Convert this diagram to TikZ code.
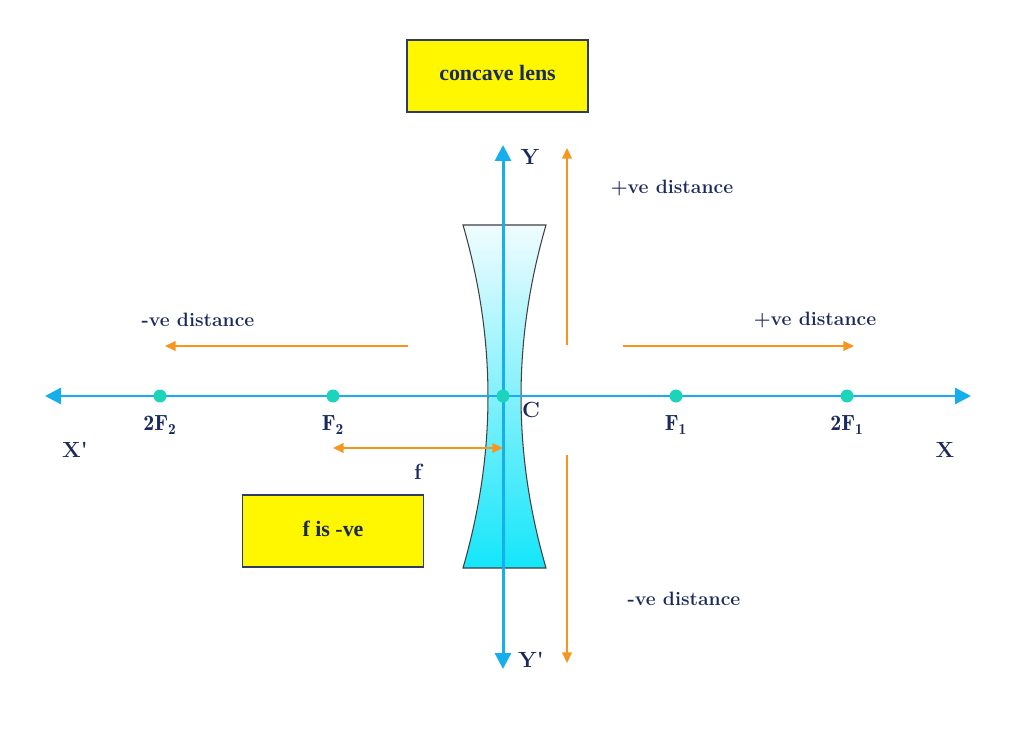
\documentclass[tikz,border=0pt]{standalone}
\usepackage{fontspec}
\newfontfamily\boxfont{Liberation Serif}
\usetikzlibrary{arrows.meta}
\definecolor{navy}{HTML}{1B2A5C}
\definecolor{axisblue}{HTML}{17AEEE}
\definecolor{orng}{HTML}{F7961E}
\definecolor{turq}{HTML}{1CD3BC}
\definecolor{yel}{HTML}{FFF700}
\definecolor{lenstop}{HTML}{F0FCFF}
\definecolor{lensbot}{HTML}{14E6FA}
\tikzset{
  lbl/.style={text=navy,font=\fontsize{12.5}{15}\selectfont\bfseries,inner sep=0pt},
  dist/.style={text=navy,font=\fontsize{11}{13}\selectfont\bfseries,inner sep=0pt},
  infobox/.style={draw=navy!80!gray,line width=0.8pt,fill=yel,text=navy,
     font=\boxfont\fontsize{12.5}{15}\selectfont\bfseries,minimum width=181*0.02cm,minimum height=72*0.02cm,inner sep=0pt},
  axisline/.style={draw=axisblue,line width=1.7pt},
  axistip/.style={-{Triangle[length=9pt,width=9pt]}},
  oarrow/.style={draw=orng,line width=0.8pt,-{Triangle[length=6pt,width=5.5pt]}},
  dot/.style={circle,fill=turq,minimum size=13*0.02cm,inner sep=0pt},
}
\begin{document}
\begin{tikzpicture}[x=0.02cm,y=-0.02cm]
\useasboundingbox (0,0) rectangle (1024,743);
% boxes
\node[infobox] (boxlens) at (497.5,76) {\raisebox{3pt}{concave lens}};
\node[infobox] (boxf) at (333,531) {\raisebox{2pt}{f is -ve}};
% lens
\shade[shading angle=20,top color=lenstop,bottom color=lensbot,draw=black!75,line width=0.6pt]
  (463,225) -- (546,225) .. controls (512.7,340) and (512.7,453) .. (546,568)
  -- (463,568) .. controls (496.3,453) and (496.3,340) .. (463,225) -- cycle;
% coordinates
\coordinate (Xl) at (45,396);
\coordinate (Xr) at (971,396);
\coordinate (Yt) at (503,145);
\coordinate (Yb) at (503,669);
\coordinate (O) at (503,396);
% axes
\draw[axisline,axistip] (O) -- (Xl);
\draw[axisline,axistip] (O) -- (Xr);
\draw[axisline,axistip] (O) -- (Yt);
\draw[axisline,axistip] (O) -- (Yb);
% orange arrows
\coordinate (ut0) at (567,345); \coordinate (ut1) at (567,148);
\coordinate (dt0) at (567,455); \coordinate (dt1) at (567,663);
\coordinate (lt0) at (408,346); \coordinate (lt1) at (165,346);
\coordinate (rt0) at (623,346); \coordinate (rt1) at (854,346);
\draw[oarrow] (ut0) -- (ut1);
\draw[oarrow] (dt0) -- (dt1);
\draw[oarrow] (lt0) -- (lt1);
\draw[oarrow] (rt0) -- (rt1);
% points
\node[dot] (p2F2) at (160,396) {};
\node[dot] (pF2) at (333,396) {};
\node[dot] (pC) at (503,396) {};
\node[dot] (pF1) at (676,396) {};
\node[dot] (p2F1) at (847,396) {};
% f arrow
\coordinate (fa) at (333,448);
\coordinate (fb) at (503,448);
\draw[draw=orng,line width=0.8pt,{Triangle[length=6pt,width=5.5pt]}-{Triangle[length=6pt,width=5.5pt]}] (fa) -- (fb);
% labels
\node[lbl] (l2F2) at (160,425) {$\mathbf{2F_2}$};
\node[lbl] (lF2) at (333,425) {$\mathbf{F_2}$};
\node[lbl] (lC) at (531,410) {C};
\node[lbl] (lF1) at (676,425) {$\mathbf{F_1}$};
\node[lbl] (l2F1) at (847,425) {$\mathbf{2F_1}$};
\node[lbl] (lXp) at (75,450) {X\textquotesingle};
\node[lbl] (lX) at (945,450) {X};
\node[lbl] (lY) at (530,157) {Y};
\node[lbl] (lYp) at (531,660) {Y\textquotesingle};
\node[lbl] (lf) at (418,472) {f};
\node[dist] (dtop) at (672,188) {+ve distance};
\node[dist] (dleft) at (198,320) {-ve distance};
\node[dist] (dright) at (815,320) {+ve distance};
\node[dist] (dbot) at (684,599) {-ve distance};
\end{tikzpicture}
\end{document}
